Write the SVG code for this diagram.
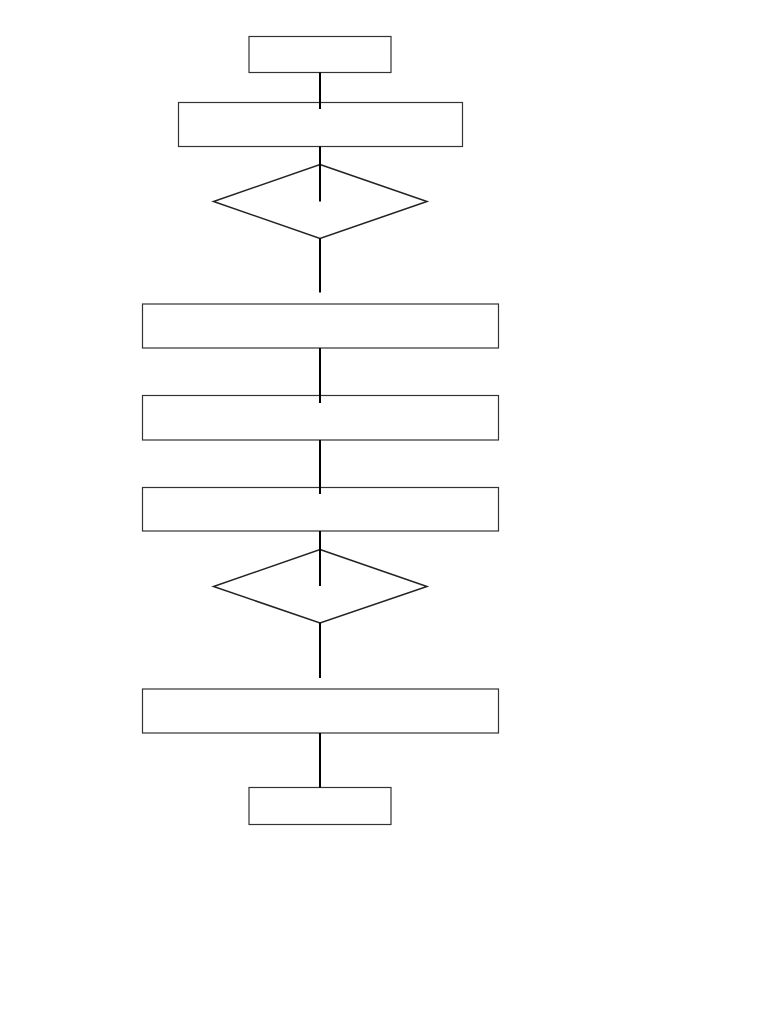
<svg xmlns="http://www.w3.org/2000/svg" width="768" height="1024" viewBox="0 0 768 1024">
<style>
.box{fill:#fff;stroke:#333;stroke-width:1.2}
.dia{fill:#fff;stroke:#222;stroke-width:1.5}
.con{stroke:#000;stroke-width:2;fill:none}
</style>
<rect width="768" height="1024" fill="#fff"/>
<g id="n1"><rect class="box" x="249" y="36.5" width="142" height="36"/></g>
<g id="n2"><rect class="box" x="178.5" y="102.5" width="284" height="44"/></g>
<g id="n3"><polygon class="dia" points="320,164.5 427,201.5 320,238.5 213.5,201.5"/></g>
<g id="n4"><rect class="box" x="142.5" y="304" width="356" height="44"/></g>
<g id="n5"><rect class="box" x="142.5" y="395.5" width="356" height="44.5"/></g>
<g id="n6"><rect class="box" x="142.5" y="487.5" width="356" height="43.5"/></g>
<g id="n7"><polygon class="dia" points="320,549.5 427,586.5 320,623 213.5,586.5"/></g>
<g id="n8"><rect class="box" x="142.5" y="689" width="356" height="44"/></g>
<g id="n9"><rect class="box" x="249" y="787.5" width="142" height="37"/></g>
<g id="connectors">
<line class="con" x1="320" y1="72.5" x2="320" y2="109"/>
<line class="con" x1="320" y1="146.5" x2="320" y2="201.5"/>
<line class="con" x1="320" y1="238.5" x2="320" y2="292.5"/>
<line class="con" x1="320" y1="348" x2="320" y2="403"/>
<line class="con" x1="320" y1="440" x2="320" y2="494"/>
<line class="con" x1="320" y1="531" x2="320" y2="586"/>
<line class="con" x1="320" y1="623" x2="320" y2="678"/>
<line class="con" x1="320" y1="733" x2="320" y2="787.5"/>
</g>
</svg>
